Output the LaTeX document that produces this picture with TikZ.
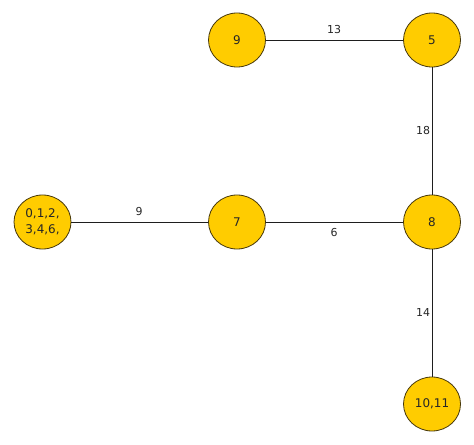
\documentclass[tikz,border=0pt]{standalone}
\usepackage{fontspec}
\usetikzlibrary{shapes.geometric}
\setmainfont{DejaVu Sans}
\definecolor{gold}{RGB}{255,204,0}
\definecolor{rim}{RGB}{70,55,10}
\definecolor{edgec}{RGB}{30,30,30}
\begin{document}
\begin{tikzpicture}[x=1bp,y=-1bp,
  vert/.style={ellipse,draw=rim,fill=gold,line width=0.8bp,minimum width=57bp,minimum height=54bp,inner sep=0pt,font=\fontsize{12}{15}\selectfont,text=black!85},
  conn/.style={draw=edgec,line width=0.9bp},
  wt/.style={font=\fontsize{11}{13}\selectfont,text=black!85}]
\useasboundingbox (0,0) rectangle (474,445);
\node[vert] (n9) at (237,40) {9};
\node[vert] (n5) at (432,40) {5};
\node[vert,align=center] (n0) at (42.5,222) {0,1,2,\\[1bp]3,4,6,};
\node[vert] (n7) at (237,222) {7};
\node[vert] (n8) at (432,222) {8};
\node[vert] (n10) at (432,404) {10,11};
\draw[conn] (n9) -- (n5);
\draw[conn] (n5) -- (n8);
\draw[conn] (n0) -- (n7);
\draw[conn] (n7) -- (n8);
\draw[conn] (n8) -- (n10);
\node[wt] (w13) at (334,30) {13};
\node[wt] (w18) at (423,131) {18};
\node[wt] (w9) at (139,212) {9};
\node[wt] (w6) at (334,233) {6};
\node[wt] (w14) at (423,313) {14};
\end{tikzpicture}
\end{document}
